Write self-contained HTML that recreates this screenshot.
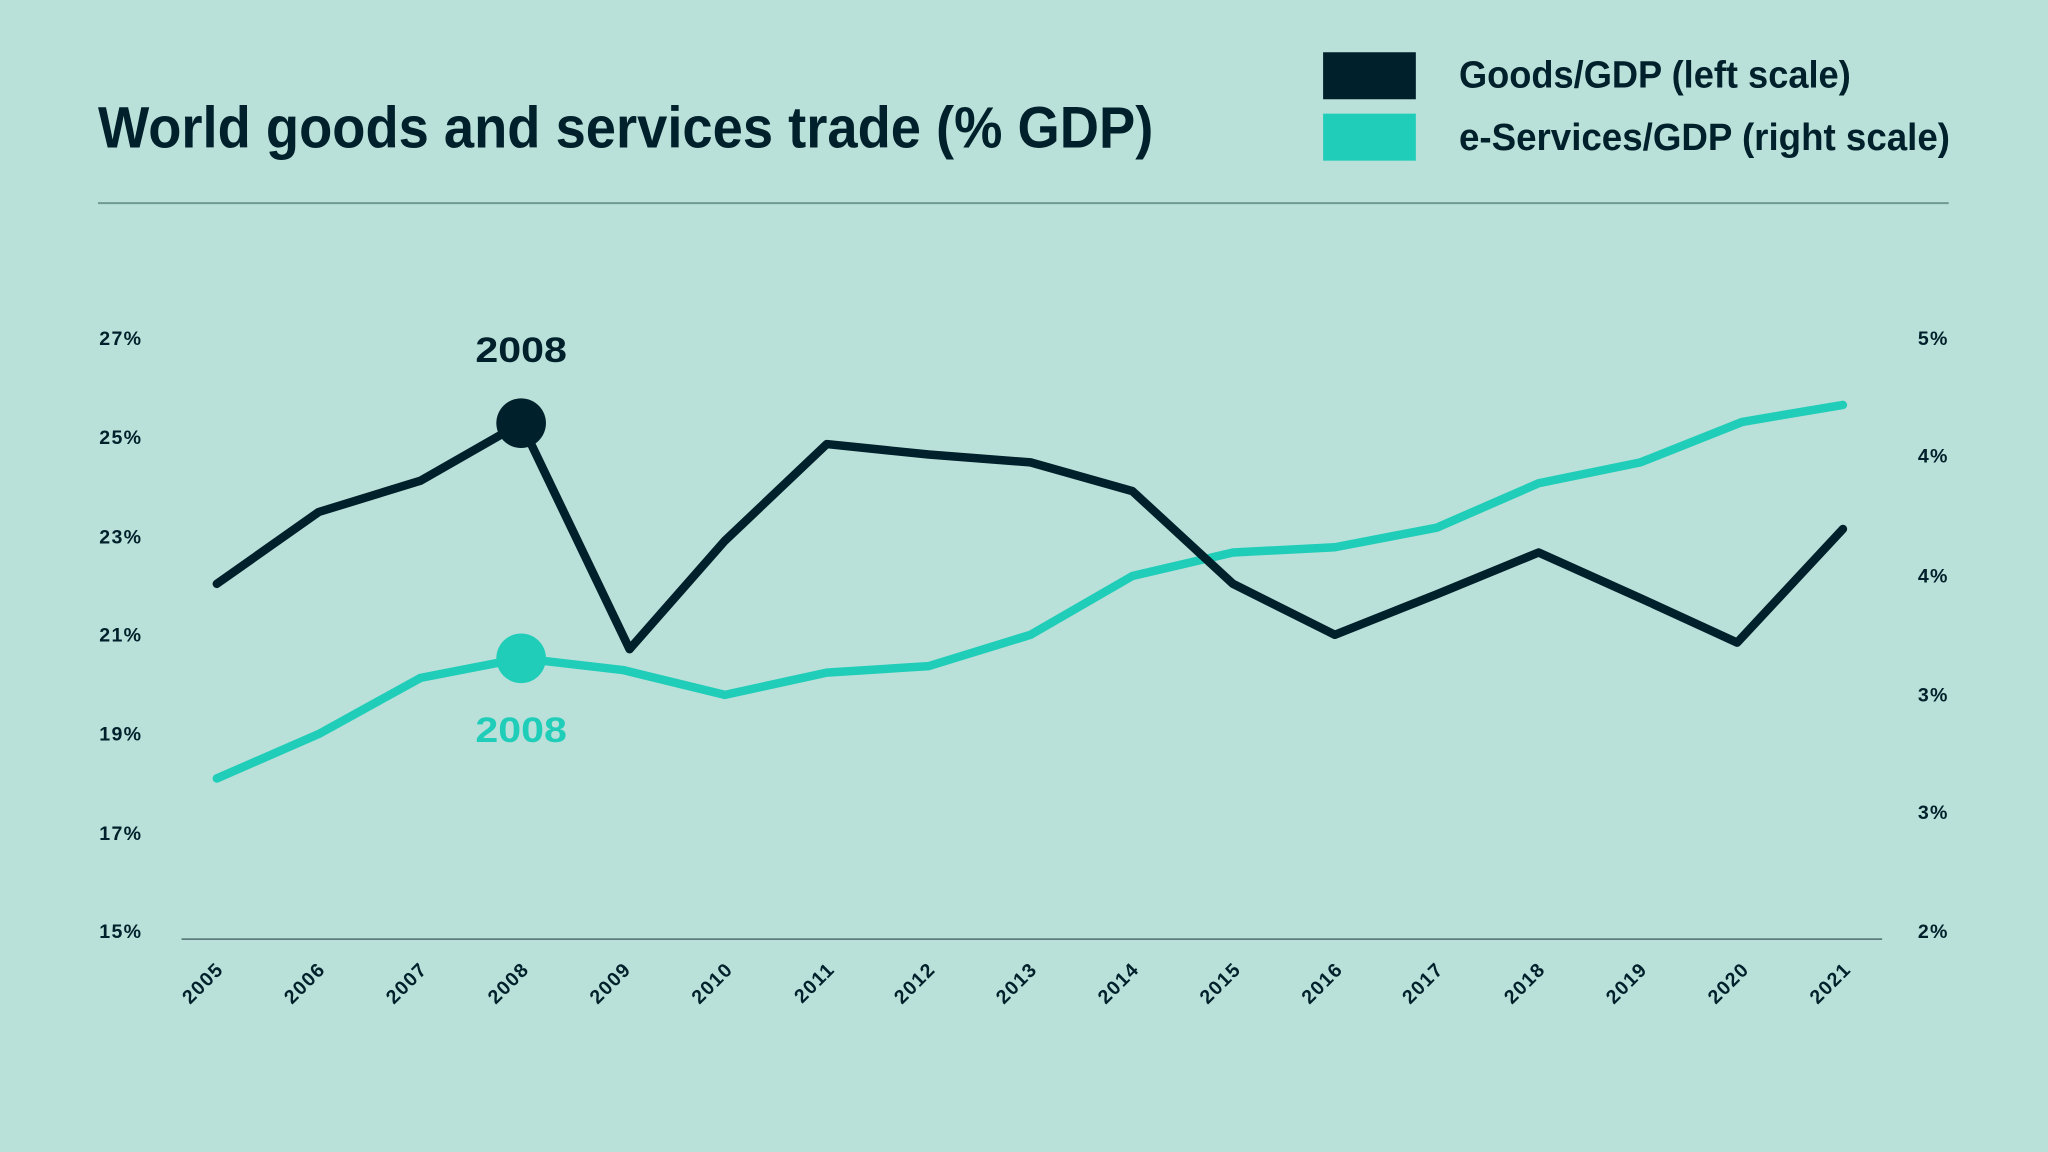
<!DOCTYPE html>
<html><head><meta charset="utf-8"><style>
html,body{margin:0;padding:0;background:#b9e1d9;}
svg{display:block;}
</style></head><body>
<svg width="2048" height="1152" viewBox="0 0 1568 882" xmlns="http://www.w3.org/2000/svg">
<rect width="1568" height="882" fill="#b9e1d9"/>
<text x="75" y="113" font-family="Liberation Sans Narrow, Liberation Sans, sans-serif" font-weight="bold" font-size="45" fill="#00202b" textLength="808" lengthAdjust="spacingAndGlyphs">World goods and services trade (% GDP)</text>
<rect x="1013" y="40" width="71" height="36" fill="#00202b"/>
<rect x="1013" y="87" width="71" height="36" fill="#20cdb9"/>
<text x="1117" y="67" font-family="Liberation Sans Narrow, Liberation Sans, sans-serif" font-weight="bold" font-size="29" fill="#00202b" textLength="300" lengthAdjust="spacingAndGlyphs">Goods/GDP (left scale)</text>
<text x="1117" y="115" font-family="Liberation Sans Narrow, Liberation Sans, sans-serif" font-weight="bold" font-size="29" fill="#00202b" textLength="376" lengthAdjust="spacingAndGlyphs">e-Services/GDP (right scale)</text>
<line x1="75" y1="155.5" x2="1492" y2="155.5" stroke="#6f9a92" stroke-width="1.5"/>
<g font-family="Liberation Sans, sans-serif" font-weight="bold" font-size="15" fill="#00202b" letter-spacing="1">
<g text-anchor="end">
<text x="109" y="264">27%</text><text x="109" y="340">25%</text><text x="109" y="416">23%</text>
<text x="109" y="491">21%</text><text x="109" y="567">19%</text><text x="109" y="643">17%</text><text x="109" y="718">15%</text>
<text x="1492" y="264">5%</text><text x="1492" y="354">4%</text><text x="1492" y="446">4%</text>
<text x="1492" y="537">3%</text><text x="1492" y="627">3%</text><text x="1492" y="718">2%</text>
</g>
<g text-anchor="end" font-size="15">
<text transform="translate(172,743) rotate(-45)">2005</text>
<text transform="translate(250,743) rotate(-45)">2006</text>
<text transform="translate(328,743) rotate(-45)">2007</text>
<text transform="translate(406,743) rotate(-45)">2008</text>
<text transform="translate(484,743) rotate(-45)">2009</text>
<text transform="translate(562,743) rotate(-45)">2010</text>
<text transform="translate(640,743) rotate(-45)">2011</text>
<text transform="translate(717,743) rotate(-45)">2012</text>
<text transform="translate(795,743) rotate(-45)">2013</text>
<text transform="translate(873,743) rotate(-45)">2014</text>
<text transform="translate(951,743) rotate(-45)">2015</text>
<text transform="translate(1029,743) rotate(-45)">2016</text>
<text transform="translate(1106,743) rotate(-45)">2017</text>
<text transform="translate(1184,743) rotate(-45)">2018</text>
<text transform="translate(1262,743) rotate(-45)">2019</text>
<text transform="translate(1340,743) rotate(-45)">2020</text>
<text transform="translate(1418,743) rotate(-45)">2021</text>
</g>
</g>
<line x1="139" y1="719" x2="1441" y2="719" stroke="#4f6e6e" stroke-width="1.2"/>
<polyline fill="none" stroke="#20cdb9" stroke-width="6.5" stroke-linecap="round" stroke-linejoin="round"
 points="166,596 244,562 322,519 399,504 477,513 555,532 633,515 711,510 789,486 867,441 944,423 1022,419 1100,404 1178,370 1256,354 1334,323 1411,310"/>
<polyline fill="none" stroke="#00202b" stroke-width="6.5" stroke-linecap="round" stroke-linejoin="round"
 points="166,447 244,392 322,368 399,324 482,497 555,414 633,340 711,348 789,354 867,376 944,447 1022,486 1100,455 1178,423 1256,458 1330,492 1411,405"/>
<circle cx="399" cy="324" r="19" fill="#00202b"/>
<circle cx="399" cy="504" r="19" fill="#20cdb9"/>
<g font-family="Liberation Sans, sans-serif" font-weight="bold" font-size="27">
<text x="364" y="277" fill="#00202b" textLength="70" lengthAdjust="spacingAndGlyphs">2008</text>
<text x="364" y="568" fill="#20cdb9" textLength="70" lengthAdjust="spacingAndGlyphs">2008</text>
</g>
</svg>
</body></html>
